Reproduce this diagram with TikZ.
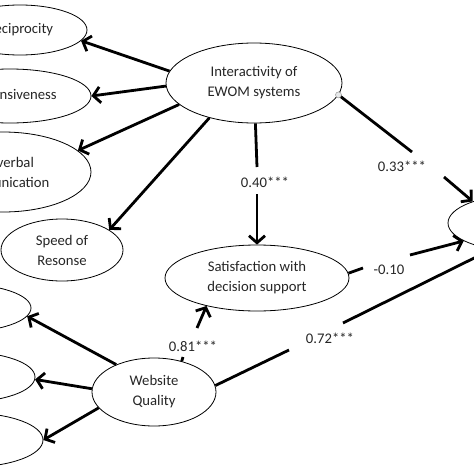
\documentclass[tikz,border=0pt]{standalone}
\usepackage{fontspec}
\setmainfont{Carlito}
\usetikzlibrary{shapes.geometric,arrows.meta}
\begin{document}
\begin{tikzpicture}[x=1pt,y=-1pt,
  lat/.style={ellipse,draw,line width=0.8pt,inner sep=0pt,align=center,font=\fontsize{14.7}{20}\selectfont,text=black!85},
  arr/.style={line width=2.8pt,-{Straight Barb[length=7pt,width=16pt]}},
  seg/.style={line width=2.8pt},
  lbl/.style={font=\fontsize{14.7}{20}\selectfont,text=black!85,inner sep=1pt}]
\useasboundingbox (0,0) rectangle (474,474);
\clip (0,0) rectangle (474,474);
% latent variables
\node[lat,minimum width=134pt,minimum height=50pt] (rec) at (20,30) {Reciprocity};
\node[lat,minimum width=162pt,minimum height=54pt] (resp) at (10,96) {Responsiveness};
\node[lat,minimum width=176pt,minimum height=80pt] (nonv) at (3,172) {Nonverbal\\communication};
\node[lat,minimum width=122pt,minimum height=62pt] (speed) at (62,250) {Speed of\\Resonse};
\node[lat,minimum width=176pt,minimum height=80pt] (inter) at (254,83) {Interactivity of\\EWOM systems};
\node[lat,minimum width=184pt,minimum height=66pt] (sat) at (257,278) {Satisfaction with\\decision support};
\node[lat,minimum width=124pt,minimum height=68pt] (web) at (154,392) {Website\\Quality};
\node[lat,minimum width=142pt,minimum height=56pt] (right) at (519,223) {};
\node[lat,minimum width=142pt,minimum height=48pt] (w1) at (-40,308) {};
\node[lat,minimum width=140pt,minimum height=50pt] (w2) at (-35,377) {};
\node[lat,minimum width=146pt,minimum height=54pt] (w3) at (-30,440) {};
% interactivity arrows
\draw[arr] (inter.172) -- (rec.-10);
\draw[arr] (inter.182.6) -- (resp.east);
\draw[arr] (inter.196) -- (nonv.16);
\draw[arr] (inter.218) -- (speed.23);
% 0.40
\coordinate (g40a) at (257,167);
\coordinate (g40b) at (257,194);
\draw[seg] (inter.272) -- (g40a);
\draw[arr] (g40b) -- (sat.north);
\node[lbl] (l40) at (265,182) {0.40***};
% 0.33
\coordinate (g33a) at (412,152);
\coordinate (g33b) at (444,177);
\draw[seg] (inter.352.7) -- (g33a);
\draw[arr] (g33b) -- (right.155);
\node[lbl] (l33) at (402,166) {0.33***};
\node[circle,draw=gray!80,fill=cyan!8!gray!20,minimum size=6pt,inner sep=0pt,line width=0.5pt] (dot) at (inter.352.7) {};
% -0.10
\coordinate (g10a) at (363,268);
\coordinate (g10b) at (410,255);
\draw[seg] (sat.3) -- (g10a);
\draw[arr] (g10b) -- (right.198);
\node[lbl] (l10) at (389,270) {-0.10};
% 0.81
\coordinate (g81a) at (183,357);
\coordinate (g81b) at (197,328);
\draw[seg] (web.48) -- (g81a);
\draw[arr] (g81b) -- (sat.209);
\node[lbl] (l81) at (193,346) {0.81***};
% 0.72
\coordinate (g72a) at (289,350);
\coordinate (g72b) at (343,323);
\draw[seg] (web.6.4) -- (g72a);
\draw[arr] (g72b) -- (right.224);
\node[lbl] (l72) at (330,338) {0.72***};
% website indicators
\draw[arr] (web.144.7) -- (w1.-7);
\draw[arr] (web.177) -- (w2.-2);
\draw[arr] (web.196) -- (w3.east);
\end{tikzpicture}
\end{document}
